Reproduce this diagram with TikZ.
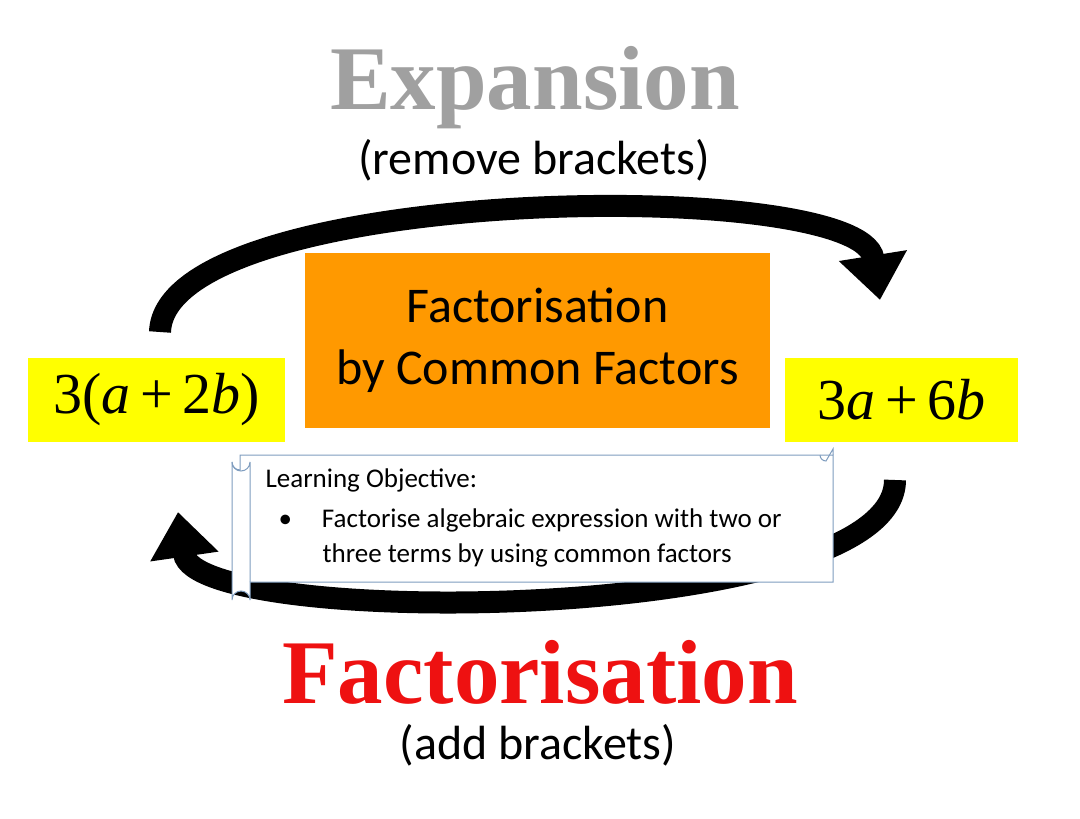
\documentclass[tikz,border=0pt]{standalone}
\usepackage{fontspec}
\setmainfont{Liberation Serif}
\newfontfamily\carl{Carlito}
\usetikzlibrary{arrows.meta}
\definecolor{orng}{HTML}{FF9900}
\definecolor{ylw}{HTML}{FFFF00}
\definecolor{gry}{HTML}{A0A0A0}
\definecolor{rd}{HTML}{EE1111}
\definecolor{scb}{HTML}{7F9DBF}
\tikzset{bigarrow/.style={line width=22pt,-{Triangle[length=45pt,width=66pt]}},
 title/.style={font=\fontsize{91}{100}\selectfont\bfseries},
 sub/.style={font=\carl\fontsize{48}{56}\selectfont},
 expr/.style={fill=ylw,minimum height=84pt,font=\fontsize{58}{62}\selectfont}}
\begin{document}
\begin{tikzpicture}[x=1pt,y=-1pt]
\useasboundingbox (0,0) rectangle (1080,819);
\node[title,text=gry] (exp) at (535,88) {Expansion};
\node[sub] (rem) at (534,160) {(remove brackets)};
\draw[bigarrow] (160,332) .. controls (165,185) and (860,175) .. (880,300);
\draw[bigarrow] (895,480) .. controls (895,625) and (195,630) .. (178,512);
\node[fill=orng,minimum width=465pt,minimum height=175pt,align=center,font=\carl\fontsize{50}{62}\selectfont] (fc) at (537.5,340.5) {Factorisation\\by Common Factors};
\node[expr,minimum width=257pt] (l) at (156.5,400) {3(\textit{a}\,+\,2\textit{b})};
\node[expr,minimum width=233pt] (r) at (901.5,400) {3\textit{a}\,+\,6\textit{b}};
\draw[scb,fill=white,line width=1pt] (240,455) -- (833,455) -- (833,582) -- (250,582) -- (250,600) arc (0:-180:9) -- (232,462) arc (180:90:8) -- cycle;
\draw[scb,line width=1pt] (250,582) -- (250,462) arc (0:180:9);
\draw[scb,line width=1pt] (820,455) arc (180:90:6) -- (833,449) -- (833,455);
\node[anchor=west,font=\carl\fontsize{27}{30}\selectfont] (lo) at (262,480) {Learning Objective:};
\node[anchor=north west,align=left,font=\carl\fontsize{27}{35}\selectfont] (b) at (275,505) {\textbullet\hspace{30pt}Factorise algebraic expression with two or\\\hspace{44pt}three terms by using common factors};
\node[title,text=rd] (fa) at (540,672) {Factorisation};
\node[sub] (add) at (538,745) {(add brackets)};
\end{tikzpicture}
\end{document}
